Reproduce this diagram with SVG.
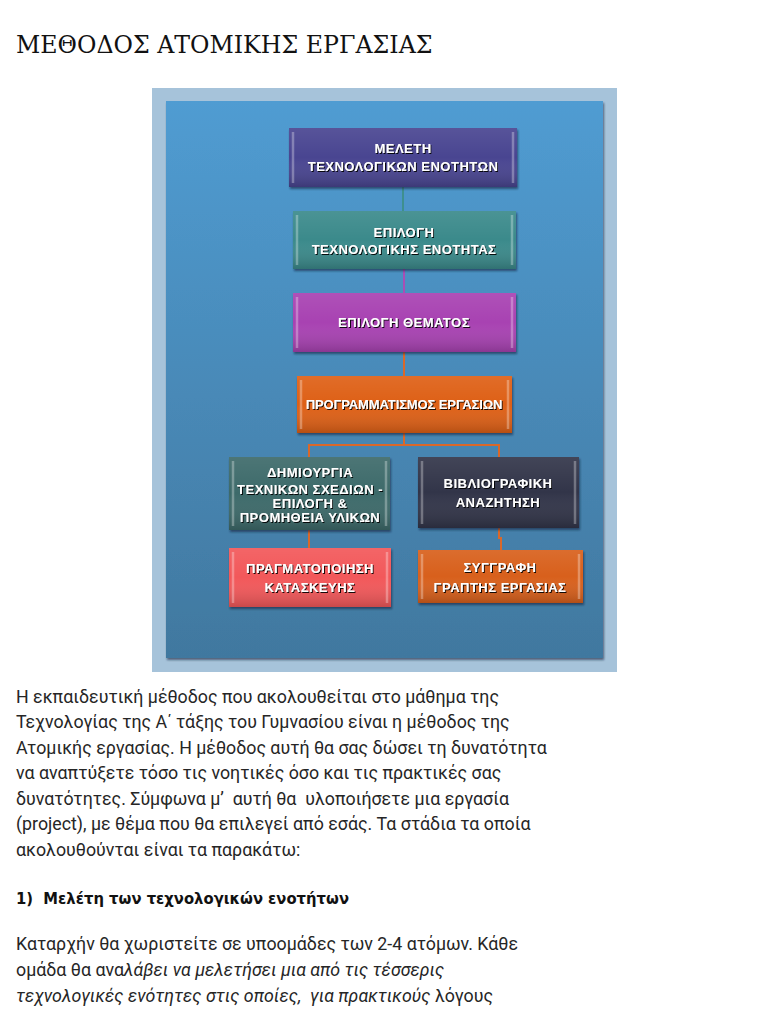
<svg xmlns="http://www.w3.org/2000/svg" width="768" height="1024" viewBox="0 0 768 1024">
<defs>
<linearGradient id="panel" x1="0" y1="0" x2="0" y2="1">
<stop offset="0" stop-color="#509cd2"/>
<stop offset="1" stop-color="#41789f"/>
</linearGradient>
<linearGradient id="shine" x1="0" y1="0" x2="0" y2="1">
<stop offset="0" stop-color="#ffffff" stop-opacity="0.08"/>
<stop offset="0.5" stop-color="#ffffff" stop-opacity="0"/>
<stop offset="1" stop-color="#000000" stop-opacity="0.18"/>
</linearGradient>
<filter id="sh" x="-10%" y="-10%" width="130%" height="140%">
<feDropShadow dx="1" dy="2" stdDeviation="1.2" flood-color="#0d2438" flood-opacity="0.6"/>
</filter>
<filter id="tsh" x="-5%" y="-30%" width="110%" height="160%">
<feDropShadow dx="1" dy="1" stdDeviation="0.5" flood-color="#000" flood-opacity="0.9"/>
</filter>
</defs>
<style>
.box{stroke:none;filter:url(#sh)}
.ov{fill:url(#shine)}
.hl{stroke:#ffffff;stroke-opacity:0.3;stroke-width:2.5}
.bt{font-family:"Liberation Sans",Arial,sans-serif;font-weight:bold;font-size:13px;fill:#ffffff;text-anchor:middle;letter-spacing:0.5px;filter:url(#tsh)}
.body{font-family:Roboto,"Noto Sans",sans-serif;font-size:17.8px;fill:#262626}
.head{font-family:"DejaVu Sans","Liberation Sans",sans-serif;font-size:15px;font-weight:bold;fill:#111111}
.conn{fill:none;stroke-width:2}
</style>
<rect width="768" height="1024" fill="#ffffff"/>
<text x="16" y="53" font-family="'DejaVu Serif','Liberation Serif',serif" font-size="23.7px" fill="#111111">ΜΕΘΟΔΟΣ ΑΤΟΜΙΚΗΣ ΕΡΓΑΣΙΑΣ</text>

<rect x="152" y="88" width="465" height="584" fill="#a6c3da"/>
<rect x="166" y="101" width="437" height="557" fill="url(#panel)" filter="url(#sh)"/>

<g id="connectors">
<path class="conn" stroke="#3e8f8f" d="M403 187 L403 211"/>
<path class="conn" stroke="#a84fb5" d="M404 269 L404 293"/>
<path class="conn" stroke="#d9682a" d="M404 352 L404 376"/>
<path class="conn" stroke="#d9682a" d="M404 433 L404 445 M309 457 L309 445 L499 445 L499 457"/>
<path class="conn" stroke="#d9682a" d="M309 530 L309 548"/>
<path class="conn" stroke="#d9682a" d="M499 528 L499 538 L501 538 L501 550"/>
</g>

<g id="n1">
<rect class="box" x="289" y="128" width="228" height="59" fill="#4a4591"/>
<rect class="ov" x="289" y="128" width="228" height="59"/>
<path class="hl" d="M293 132 V183 M513 132 V183"/>
<text class="bt" x="403" y="153">ΜΕΛΕΤΗ</text>
<text class="bt" x="403" y="171">ΤΕΧΝΟΛΟΓΙΚΩΝ ΕΝΟΤΗΤΩΝ</text>
</g>
<g id="n2">
<rect class="box" x="293" y="211" width="223" height="58" fill="#3b8a8b"/>
<rect class="ov" x="293" y="211" width="223" height="58"/>
<path class="hl" d="M297 215 V265 M512 215 V265"/>
<text class="bt" x="404" y="237">ΕΠΙΛΟΓΗ</text>
<text class="bt" x="404" y="254">ΤΕΧΝΟΛΟΓΙΚΗΣ ΕΝΟΤΗΤΑΣ</text>
</g>
<g id="n3">
<rect class="box" x="293" y="293" width="223" height="59" fill="#a843b2"/>
<rect class="ov" x="293" y="293" width="223" height="59"/>
<path class="hl" d="M297 297 V348 M512 297 V348"/>
<text class="bt" x="404" y="327">ΕΠΙΛΟΓΗ ΘΕΜΑΤΟΣ</text>
</g>
<g id="n4">
<rect class="box" x="297" y="376" width="215" height="57" fill="#de6118"/>
<rect class="ov" x="297" y="376" width="215" height="57"/>
<path class="hl" d="M301 380 V429 M508 380 V429"/>
<text class="bt" x="404" y="409" style="letter-spacing:-0.1px">ΠΡΟΓΡΑΜΜΑΤΙΣΜΟΣ ΕΡΓΑΣΙΩΝ</text>
</g>
<g id="n5">
<rect class="box" x="229" y="457" width="161" height="73" fill="#3c6b6b"/>
<rect class="ov" x="229" y="457" width="161" height="73"/>
<path class="hl" d="M233 461 V526 M386 461 V526"/>
<text class="bt" x="310" y="477">ΔΗΜΙΟΥΡΓΙΑ</text>
<text class="bt" x="310" y="494">ΤΕΧΝΙΚΩΝ ΣΧΕΔΙΩΝ -</text>
<text class="bt" x="310" y="508">ΕΠΙΛΟΓΗ &amp;</text>
<text class="bt" x="310" y="522">ΠΡΟΜΗΘΕΙΑ ΥΛΙΚΩΝ</text>
</g>
<g id="n6">
<rect class="box" x="418" y="457" width="161" height="71" fill="#33364a"/>
<rect class="ov" x="418" y="457" width="161" height="71"/>
<path class="hl" d="M422 461 V524 M575 461 V524"/>
<text class="bt" x="498" y="488">ΒΙΒΛΙΟΓΡΑΦΙΚΗ</text>
<text class="bt" x="498" y="507">ΑΝΑΖΗΤΗΣΗ</text>
</g>
<g id="n7">
<rect class="box" x="229" y="548" width="162" height="59" fill="#f2585a"/>
<rect class="ov" x="229" y="548" width="162" height="59"/>
<path class="hl" d="M233 552 V603 M387 552 V603"/>
<text class="bt" x="310" y="573">ΠΡΑΓΜΑΤΟΠΟΙΗΣΗ</text>
<text class="bt" x="310" y="592">ΚΑΤΑΣΚΕΥΗΣ</text>
</g>
<g id="n8">
<rect class="box" x="418" y="550" width="165" height="53" fill="#d8611a"/>
<rect class="ov" x="418" y="550" width="165" height="53"/>
<path class="hl" d="M422 554 V599 M579 554 V599"/>
<text class="bt" x="500" y="572">ΣΥΓΓΡΑΦΗ</text>
<text class="bt" x="500" y="592">ΓΡΑΠΤΗΣ ΕΡΓΑΣΙΑΣ</text>
</g>

<g class="body">
<text x="16" y="703">Η εκπαιδευτική μέθοδος που ακολουθείται στο μάθημα της</text>
<text x="16" y="728">Τεχνολογίας της Α΄ τάξης του Γυμνασίου είναι η μέθοδος της</text>
<text x="16" y="754">Ατομικής εργασίας. Η μέθοδος αυτή θα σας δώσει τη δυνατότητα</text>
<text x="16" y="779">να αναπτύξετε τόσο τις νοητικές όσο και τις πρακτικές σας</text>
<text x="16" y="805">δυνατότητες. Σύμφωνα μ’&#160; αυτή θα&#160; υλοποιήσετε μια εργασία</text>
<text x="16" y="830">(project), με θέμα που θα επιλεγεί από εσάς. Τα στάδια τα οποία</text>
<text x="16" y="856">ακολουθούνται είναι τα παρακάτω:</text>
<text x="16" y="950">Καταρχήν θα χωριστείτε σε υποομάδες των 2-4 ατόμων. Κάθε</text>
<text x="16" y="976">ομάδα θα ανα<tspan font-style="italic">λάβει να μελετήσει μια από τις τέσσερις</tspan></text>
<text x="16" y="1002"><tspan font-style="italic">τεχνολογικές ενότητες στις οποίες,&#160; για πρακτικούς</tspan> λόγους</text>
</g>
<text class="head" x="16" y="904" textLength="333" lengthAdjust="spacingAndGlyphs">1)&#160; Μελέτη των τεχνολογικών ενοτήτων</text>
</svg>
